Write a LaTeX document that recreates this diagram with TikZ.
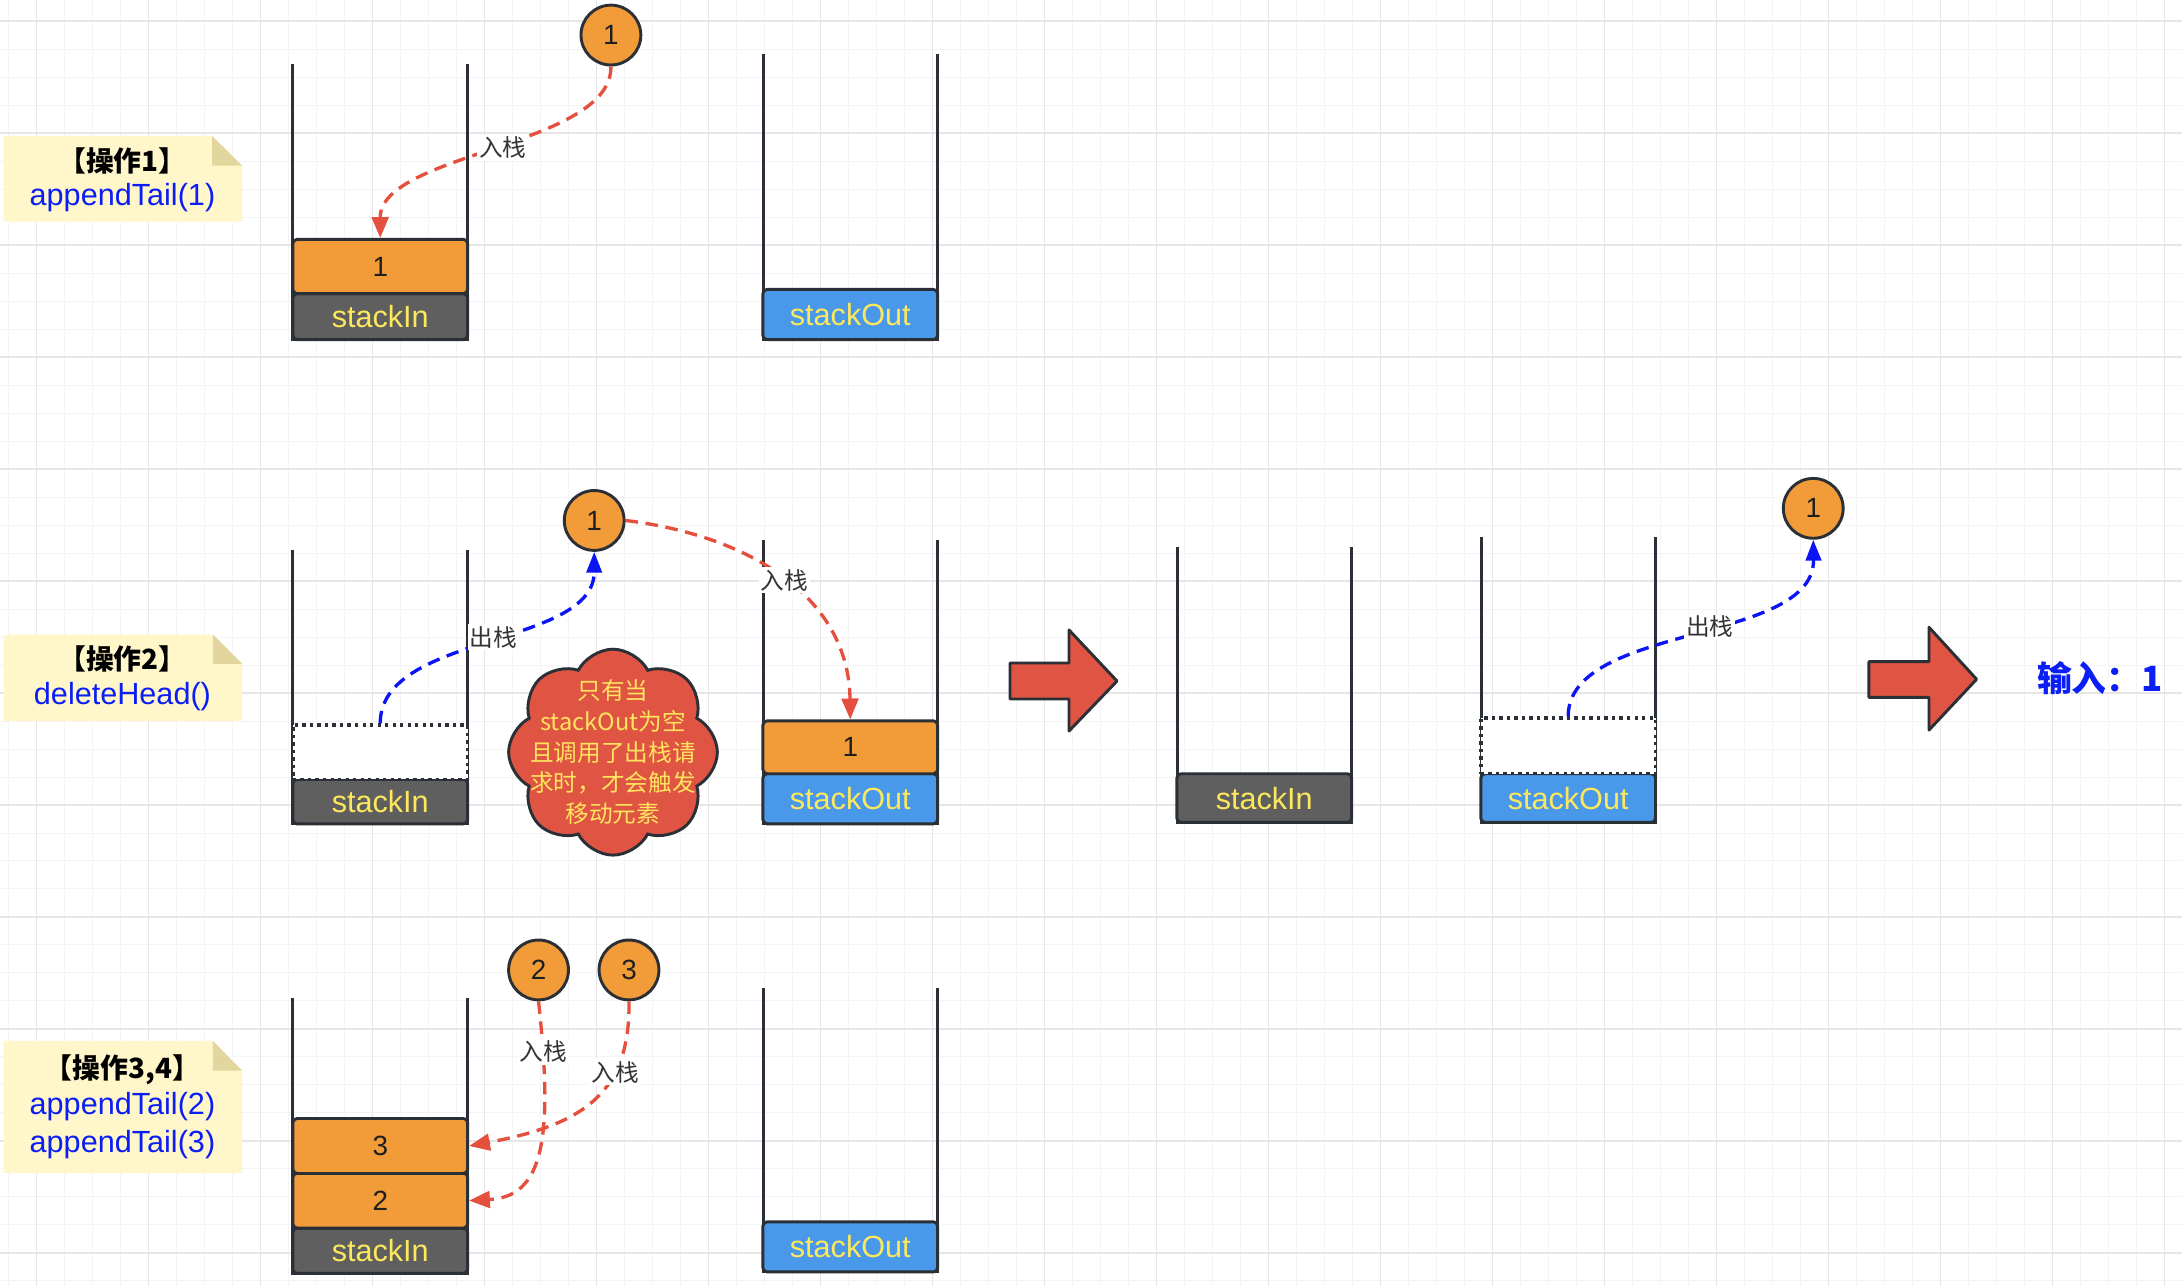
\documentclass[tikz,border=0pt]{standalone}
\usepackage{fontspec}
\setmainfont{Liberation Sans}
\newfontfamily\cjk{Noto Sans CJK SC}
\usetikzlibrary{arrows.meta,shapes.symbols}
\definecolor{darkline}{HTML}{2B2F36}
\definecolor{orangeF}{HTML}{F19C38}
\definecolor{grayF}{HTML}{5F5F5F}
\definecolor{blueF}{HTML}{4A98E9}
\definecolor{yellowT}{HTML}{FCE85C}
\definecolor{noteF}{HTML}{FFF6CA}
\definecolor{foldF}{HTML}{E3D59E}
\definecolor{redF}{HTML}{E05443}
\definecolor{redL}{HTML}{E4503D}
\definecolor{blueL}{HTML}{0A14F5}
\definecolor{blueT}{HTML}{0A1EF5}
\definecolor{labelT}{HTML}{333333}
\definecolor{cloudT}{HTML}{FFE45E}
\definecolor{gridMinor}{HTML}{F4F4F4}
\definecolor{gridMajor}{HTML}{E6E6E6}
\begin{document}
\begin{tikzpicture}[x=1pt,y=-1pt,
  wall/.style={draw=darkline, line width=2.1pt},
  elem/.style={rectangle, rounded corners=3pt, draw=darkline, line width=2.1pt, fill=orangeF, minimum width=125.5pt, inner sep=0pt, text=labelT!60!black, font=\fontsize{20}{24}\selectfont},
  lblin/.style={elem, fill=grayF, text=yellowT, font=\fontsize{22}{26}\selectfont},
  lblout/.style={lblin, fill=blueF},
  emptybox/.style={rectangle, draw=darkline, line width=2.4pt, dash pattern=on 2.4pt off 3pt, fill=white, minimum width=125.5pt, inner sep=0pt},
  ball/.style={circle, draw=darkline, line width=2.1pt, fill=orangeF, minimum size=43pt, inner sep=0pt, text=labelT!60!black, font=\fontsize{20}{24}\selectfont},
  redarrow/.style={draw=redL, line width=2.4pt, dash pattern=on 9pt off 5.5pt, -{Triangle[length=15pt,width=12pt]}},
  bluearrow/.style={draw=blueL, line width=2.4pt, dash pattern=on 9pt off 5.5pt, -{Triangle[length=15pt,width=11pt]}},
  elabel/.style={fill=white, inner sep=1.5pt, text=labelT, font=\cjk\fontsize{17}{19}\selectfont},
  notetitle/.style={text=black, font=\cjk\bfseries\fontsize{20}{24}\selectfont},
  notecode/.style={text=blueT, font=\fontsize{22}{26}\selectfont},
  bigarrow/.style={fill=redF, draw=darkline, line width=2.1pt, line join=round},
  gminor/.style={draw=gridMinor, line width=0.7pt},
  gmajor/.style={draw=gridMajor, line width=0.9pt}]
\fill[white] (0,0) rectangle (1568,924);
\useasboundingbox (0,0) rectangle (1568,924);
% grid
\foreach \i in {0,...,77} \draw[gminor] ({6.3+\i*20.12},0) -- ({6.3+\i*20.12},924);
\foreach \j in {0,...,45} \draw[gminor] (0,{15.1+\j*20.12}) -- (1568,{15.1+\j*20.12});
\foreach \i in {0,...,19} \draw[gmajor] ({26.4+\i*80.48},0) -- ({26.4+\i*80.48},924);
\foreach \j in {0,...,11} \draw[gmajor] (0,{15.1+\j*80.48}) -- (1568,{15.1+\j*80.48});

% ---------- notes ----------
\fill[noteF] (2.6,97.7) -- (152.4,97.7) -- (174,119) -- (174,159.3) -- (2.6,159.3) -- cycle;
\fill[foldF] (152.4,97.7) -- (152.4,119) -- (174,119) -- cycle;
\node[notetitle] (n1t) at (88,116) {【操作1】};
\node[notecode] (n1c) at (88,142) {appendTail(1)};

\fill[noteF] (2.6,456) -- (153,456) -- (174,477) -- (174,518) -- (2.6,518) -- cycle;
\fill[foldF] (153,456) -- (153,477) -- (174,477) -- cycle;
\node[notetitle] (n2t) at (88,473.6) {【操作2】};
\node[notecode] (n2c) at (88,500.8) {deleteHead()};

\fill[noteF] (2.6,748) -- (153,748) -- (174,769.4) -- (174,843) -- (2.6,843) -- cycle;
\fill[foldF] (153,748) -- (153,769.4) -- (174,769.4) -- cycle;
\node[notetitle] (n3t) at (88,769) {【操作3,4】};
\node[notecode] (n3c) at (88,795.5) {appendTail(2)};
\node[notecode] (n3d) at (88,822.8) {appendTail(3)};

% ---------- row 1 ----------
\draw[wall] (210.5,46) -- (210.5,244) -- (336,244) -- (336,46);
\node[lblin, minimum height=33pt] (inA) at (273.25,227.5) {stackIn};
\node[elem, minimum height=39pt] (inA1) at (273.25,191.5) {1};
\draw[wall] (548.5,39) -- (548.5,244) -- (673.5,244) -- (673.5,39);
\node[lblout, minimum height=36pt] (outB) at (611,226) {stackOut};
\node[ball] (b1) at (439,25.2) {1};
\draw[redarrow] (b1.south) .. controls (440,105) and (273,110) .. (inA1.north) node[elabel,pos=0.48] (l1) {入栈};

% ---------- row 2 ----------
\draw[wall] (210.5,395) -- (210.5,592) -- (336,592) -- (336,395);
\node[lblin, minimum height=32pt] (inC) at (273.25,576) {stackIn};
\node[emptybox, minimum height=39pt] (inC0) at (273.25,540.5) {};
\node[ball] (b2) at (427,374) {1};
\draw[bluearrow] (inC0.north) .. controls (273,455) and (427,465) .. (b2.south) node[elabel,pos=0.52] (l2) {出栈};

\node[cloud, cloud puffs=8, cloud puff arc=125, aspect=1, draw=darkline, line width=2.1pt, fill=redF, minimum width=150pt, minimum height=148pt, inner sep=0pt] (cl) at (440.5,540.5) {};
\node[text=cloudT, font=\cjk\fontsize{17}{22}\selectfont, align=center, inner sep=0pt] (clt) at (cl.center) {只有当\\stackOut为空\\且调用了出栈请\\求时，才会触发\\移动元素};

\draw[wall] (548.5,388) -- (548.5,592) -- (673.5,592) -- (673.5,388);
\node[lblout, minimum height=36pt] (outD) at (611,574) {stackOut};
\node[elem, minimum height=38pt] (outD1) at (611,537) {1};
\draw[redarrow] (b2.east) .. controls (540,385) and (610,430) .. (outD1.north) node[elabel,pos=0.5] (l3) {入栈};

\draw[bigarrow] (725.8,476.4) -- (768.2,476.4) -- (768.2,452.7) -- (802.7,489.4) -- (768.2,525.3) -- (768.2,502.3) -- (725.8,502.3) -- cycle;

\draw[wall] (846,393) -- (846,591) -- (971,591) -- (971,393);
\node[lblin, minimum height=35pt] (inE) at (908.5,573.5) {stackIn};

\draw[wall] (1064.3,386) -- (1064.3,591) -- (1189.5,591) -- (1189.5,386);
\node[lblout, minimum height=35pt] (outF) at (1126.9,573.5) {stackOut};
\node[emptybox, minimum height=40pt] (outF0) at (1126.9,536) {};
\node[ball] (b3) at (1303,365.3) {1};
\draw[bluearrow] (outF0.north) .. controls (1127,448) and (1304,463) .. (b3.south) node[elabel,pos=0.55] (l4) {出栈};

\draw[bigarrow] (1343,475.5) -- (1386.2,475.5) -- (1386.2,450.8) -- (1420.4,488.1) -- (1386.2,524.6) -- (1386.2,501.1) -- (1343,501.1) -- cycle;
\node[text=blueT, font=\cjk\bfseries\fontsize{25}{30}\selectfont] (res) at (1509,487) {输入：1};

% ---------- row 3 ----------
\draw[wall] (210.5,717) -- (210.5,915) -- (336,915) -- (336,717);
\node[lblin, minimum height=32.5pt] (inG) at (273.25,898.75) {stackIn};
\node[elem, minimum height=39.5pt] (inG2) at (273.25,862.75) {2};
\node[elem, minimum height=39.5pt] (inG3) at (273.25,823.5) {3};
\node[ball] (b4) at (387,697) {2};
\node[ball] (b5) at (452,697) {3};
\draw[redarrow] (b5.south) .. controls (453,785) and (420,808) .. (inG3.east) node[elabel,pos=0.32] (l6) {入栈};
\draw[redarrow] (b4.south) .. controls (398,820) and (390,860) .. (inG2.east) node[elabel,pos=0.13] (l5) {入栈};

\draw[wall] (548.5,710) -- (548.5,914) -- (673.5,914) -- (673.5,710);
\node[lblout, minimum height=36pt] (outH) at (611,896) {stackOut};
\end{tikzpicture}
\end{document}
